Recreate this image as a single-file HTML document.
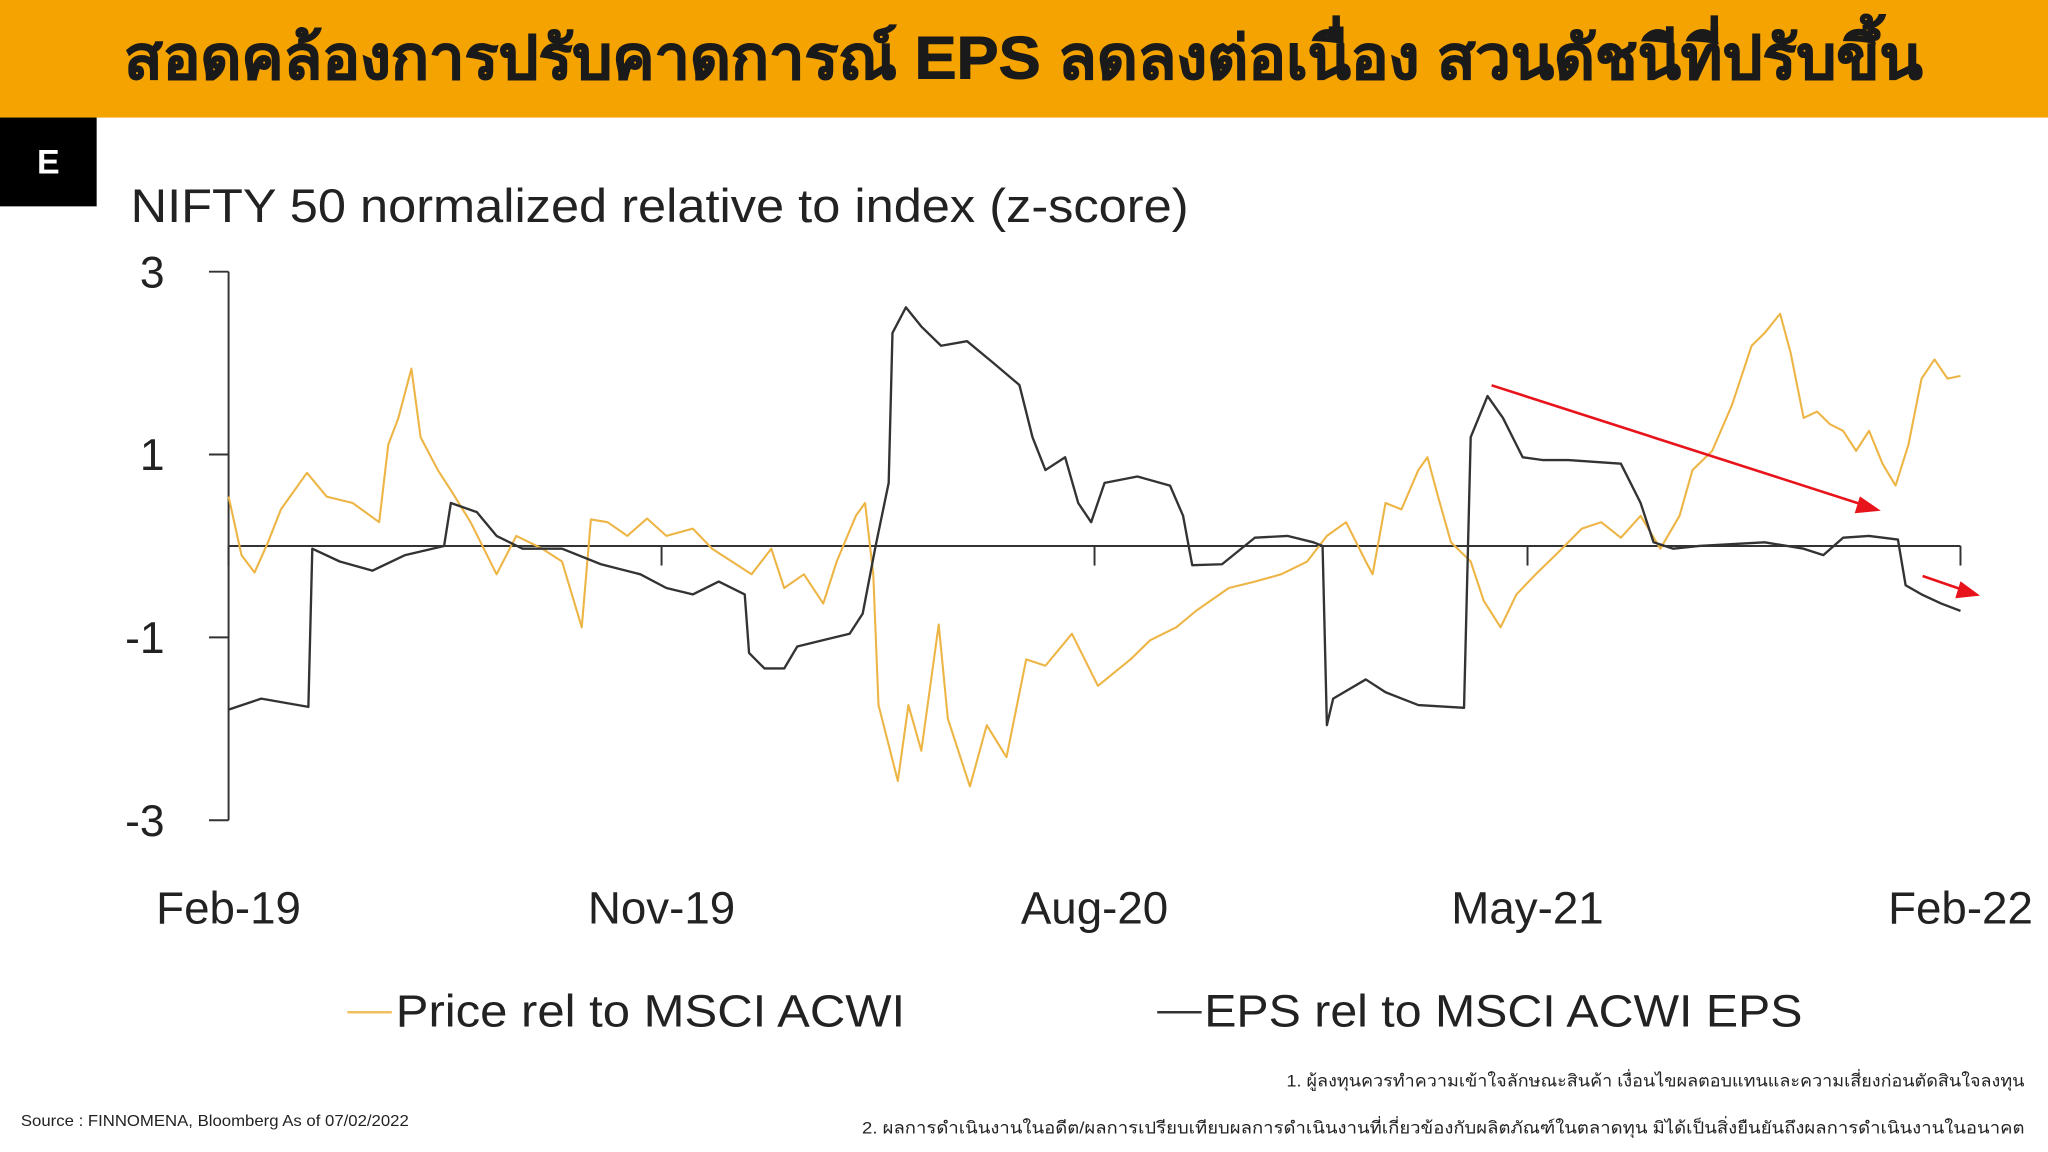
<!DOCTYPE html>
<html><head><meta charset="utf-8">
<style>
html,body{margin:0;padding:0;background:#fff;}
svg{display:block;}
text{font-family:"Liberation Sans","Noto Sans CJK SC",sans-serif;}
</style></head>
<body>
<svg id="chart" width="2048" height="1152" viewBox="0 0 1568 882" xmlns="http://www.w3.org/2000/svg">
  <rect x="0" y="0" width="1568" height="90" fill="#F5A300"/>
  <text x="95" y="60" textLength="1377" lengthAdjust="spacingAndGlyphs" font-size="46" font-weight="bold" fill="#1a1a1a" stroke="#1a1a1a" stroke-width="0.8">สอดคล้องการปรับคาดการณ์ EPS ลดลงต่อเนื่อง สวนดัชนีที่ปรับขึ้น</text>
  <rect x="0" y="90" width="74" height="68" fill="#000"/>
  <text x="37" y="133" text-anchor="middle" font-size="26" font-weight="bold" fill="#fff">E</text>
  <text x="100" y="170" textLength="810" lengthAdjust="spacingAndGlyphs" font-size="36" fill="#222">NIFTY 50 normalized relative to index (z-score)</text>
  <g id="axes"></g>
  <g id="series"></g>
  <g>
    <line x1="1142" y1="295" x2="1428" y2="387" stroke="#e8141c" stroke-width="2"/>
    <polygon points="1440,391 1424,380 1420,393" fill="#e8141c"/>
    <line x1="1472" y1="441" x2="1504" y2="452" stroke="#e8141c" stroke-width="2"/>
    <polygon points="1516,456 1501,445 1497,458" fill="#e8141c"/>
  </g>
  <g>
    <line x1="266" y1="775" x2="300" y2="775" stroke="#F0C060" stroke-width="2"/>
    <text x="303" y="786" textLength="390" lengthAdjust="spacingAndGlyphs" font-size="35" fill="#222">Price rel to MSCI ACWI</text>
    <line x1="886" y1="775" x2="920" y2="775" stroke="#333" stroke-width="2"/>
    <text x="922" y="786" textLength="458" lengthAdjust="spacingAndGlyphs" font-size="35" fill="#222">EPS rel to MSCI ACWI EPS</text>
  </g>
  <text x="985" y="832" textLength="565" lengthAdjust="spacingAndGlyphs" font-size="13" fill="#222">1. ผู้ลงทุนควรทำความเข้าใจลักษณะสินค้า เงื่อนไขผลตอบแทนและความเสี่ยงก่อนตัดสินใจลงทุน</text>
  <text x="16" y="862" textLength="297" lengthAdjust="spacingAndGlyphs" font-size="12" fill="#222">Source : FINNOMENA, Bloomberg As of 07/02/2022</text>
  <text x="660" y="868" textLength="890" lengthAdjust="spacingAndGlyphs" font-size="13" fill="#222">2. ผลการดำเนินงานในอดีต/ผลการเปรียบเทียบผลการดำเนินงานที่เกี่ยวข้องกับผลิตภัณฑ์ในตลาดทุน มิได้เป็นสิ่งยืนยันถึงผลการดำเนินงานในอนาคต</text>
</svg>
<script>
const yTicks = [3, 1, -1, -3];
const xTickLabels = ["Feb-19", "Nov-19", "Aug-20", "May-21", "Feb-22"];
const xTickMonths = [0, 9, 18, 27, 36];
const epsData = [[0,-1.79],[0.68,-1.67],[1.66,-1.76],[1.74,-0.03],[2.31,-0.17],[2.99,-0.27],[3.67,-0.1],[4.48,0],[4.62,0.47],[5.16,0.37],[5.57,0.11],[6.11,-0.03],[6.93,-0.03],[7.74,-0.2],[8.56,-0.31],[9.1,-0.46],[9.65,-0.53],[10.19,-0.39],[10.73,-0.53],[10.82,-1.17],[11.14,-1.34],[11.55,-1.34],[11.82,-1.1],[12.36,-1.03],[12.91,-0.96],[13.18,-0.74],[13.45,0],[13.72,0.69],[13.8,2.33],[14.08,2.61],[14.4,2.4],[14.81,2.19],[15.35,2.24],[15.9,2.0],[16.44,1.76],[16.71,1.19],[16.98,0.83],[17.39,0.97],[17.66,0.47],[17.93,0.26],[18.21,0.69],[18.89,0.76],[19.57,0.66],[19.84,0.33],[20.03,-0.21],[20.65,-0.2],[21.33,0.09],[22.01,0.11],[22.55,0.04],[22.74,0],[22.83,-1.96],[22.96,-1.67],[23.64,-1.46],[24.05,-1.6],[24.73,-1.74],[25.68,-1.77],[25.82,1.19],[26.17,1.64],[26.49,1.4],[26.9,0.97],[27.31,0.94],[27.85,0.94],[28.94,0.9],[29.35,0.47],[29.62,0.04],[30.03,-0.03],[30.57,0],[31.93,0.04],[32.74,-0.03],[33.15,-0.1],[33.56,0.09],[34.1,0.11],[34.7,0.07],[34.86,-0.43],[35.19,-0.53],[35.6,-0.63],[36.0,-0.71]];
const priceData = [[0,0.54],[0.27,-0.1],[0.54,-0.29],[0.82,0.04],[1.09,0.4],[1.63,0.8],[2.04,0.54],[2.58,0.47],[3.13,0.26],[3.32,1.11],[3.53,1.4],[3.8,1.94],[3.99,1.19],[4.35,0.83],[4.62,0.61],[5.03,0.26],[5.57,-0.31],[5.98,0.11],[6.52,-0.03],[6.93,-0.17],[7.34,-0.89],[7.53,0.29],[7.88,0.26],[8.29,0.11],[8.7,0.3],[9.1,0.11],[9.65,0.19],[10.05,-0.03],[10.46,-0.17],[10.87,-0.31],[11.28,-0.03],[11.55,-0.46],[11.96,-0.31],[12.36,-0.63],[12.64,-0.17],[13.04,0.33],[13.23,0.47],[13.4,-0.31],[13.51,-1.74],[13.91,-2.57],[14.13,-1.74],[14.4,-2.24],[14.76,-0.86],[14.95,-1.89],[15.41,-2.63],[15.76,-1.96],[16.17,-2.31],[16.58,-1.24],[16.98,-1.31],[17.53,-0.96],[18.07,-1.53],[18.75,-1.24],[19.16,-1.03],[19.7,-0.89],[20.11,-0.71],[20.79,-0.46],[21.33,-0.39],[21.88,-0.31],[22.42,-0.17],[22.83,0.11],[23.23,0.26],[23.64,-0.17],[23.78,-0.31],[24.05,0.47],[24.38,0.4],[24.73,0.83],[24.92,0.97],[25.14,0.54],[25.41,0.04],[25.82,-0.17],[26.09,-0.6],[26.44,-0.89],[26.77,-0.53],[27.17,-0.31],[27.58,-0.1],[28.13,0.19],[28.53,0.26],[28.94,0.09],[29.35,0.33],[29.76,-0.03],[30.16,0.33],[30.43,0.83],[30.84,1.04],[31.25,1.54],[31.66,2.19],[31.93,2.33],[32.25,2.54],[32.47,2.11],[32.74,1.4],[33.02,1.47],[33.29,1.33],[33.56,1.26],[33.83,1.04],[34.1,1.26],[34.38,0.9],[34.65,0.66],[34.92,1.11],[35.19,1.83],[35.46,2.04],[35.73,1.83],[36,1.86]];

const NS = "http://www.w3.org/2000/svg";
const x0 = 175, xPerMonth = (1501 - 175) / 36;
const yZero = 418, yPerUnit = 70;
function xScale(m){ return x0 + m * xPerMonth; }
function yScale(v){ return yZero - v * yPerUnit; }
function mk(tag, attrs){ const e = document.createElementNS(NS, tag); for (const k in attrs) e.setAttribute(k, attrs[k]); return e; }

const axes = document.getElementById('axes');
const yAxis = mk('line', {x1:x0, y1:yScale(3), x2:x0, y2:yScale(-3), stroke:'#333', 'stroke-width':1.5});


axes.appendChild(yAxis);
yTicks.forEach(v => {
  const t = mk('line', {x1:x0-15, y1:yScale(v), x2:x0, y2:yScale(v), stroke:'#333', 'stroke-width':1.5});
  
  
  axes.appendChild(t);
  const l = mk('text', {x:126, y:yScale(v)+12, 'text-anchor':'end', 'font-size':34, fill:'#222'});
  l.textContent = String(v);
  
  
  axes.appendChild(l);
});
const zero = mk('line', {x1:x0, y1:yZero, x2:xScale(36), y2:yZero, stroke:'#333', 'stroke-width':1.5});


axes.appendChild(zero);
xTickMonths.forEach((m, i) => {
  const t = mk('line', {x1:xScale(m), y1:yZero, x2:xScale(m), y2:yZero+15, stroke:'#333', 'stroke-width':1.5});
  
  
  axes.appendChild(t);
  const l = mk('text', {x:xScale(m), y:707, 'text-anchor':'middle', 'font-size':35, fill:'#222'});
  l.textContent = xTickLabels[i];
  
  
  axes.appendChild(l);
});

const series = document.getElementById('series');
function pathFor(data){ return data.map((p,i)=>(i?'L':'M')+xScale(p[0]).toFixed(1)+','+yScale(p[1]).toFixed(1)).join(''); }
const priceLine = mk('path', {d:pathFor(priceData), fill:'none', stroke:'#EDB545', 'stroke-width':1.6, 'stroke-linejoin':'round'});


series.appendChild(priceLine);
const epsLine = mk('path', {d:pathFor(epsData), fill:'none', stroke:'#333', 'stroke-width':1.8, 'stroke-linejoin':'round'});


series.appendChild(epsLine);
</script>
</body></html>
